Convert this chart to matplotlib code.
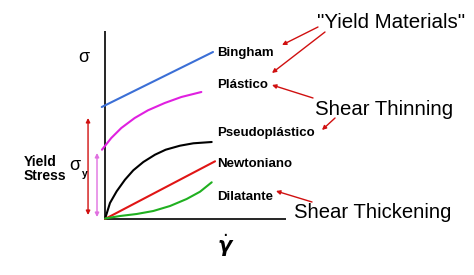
import numpy as np
import matplotlib
matplotlib.use("Agg")
import matplotlib.pyplot as plt

plt.rcParams['font.family'] = ['Liberation Sans', 'DejaVu Sans']

# ---- data (shear rate vs. shear stress, arbitrary units) ----
bingham_x = [-0.03, 1.0]
bingham_y = [1.12, 1.67]
plastico_x = [-0.028, 0.058, 0.151, 0.275, 0.398, 0.553, 0.707, 0.892]
plastico_y = [0.693, 0.81, 0.91, 1.01, 1.087, 1.16, 1.22, 1.27]
pseudo_x = [0.0, 0.046, 0.108, 0.185, 0.262, 0.355, 0.463, 0.562, 0.694, 0.818, 0.988]
pseudo_y = [0.0, 0.16, 0.277, 0.393, 0.487, 0.57, 0.643, 0.693, 0.733, 0.757, 0.77]
newton_x = [0.0, 1.019]
newton_y = [0.0, 0.577]
dilat_x = [0.0, 0.139, 0.293, 0.447, 0.602, 0.756, 0.88, 0.988]
dilat_y = [0.005, 0.03, 0.05, 0.08, 0.13, 0.20, 0.273, 0.367]

labels = ["Bingham", "Plástico", "Pseudoplástico", "Newtoniano", "Dilatante"]
label_y = [1.66, 1.34, 0.86, 0.55, 0.22]
colors = ["#3b6fd6", "#e020e0", "#000000", "#e01515", "#20b020"]

fig = plt.figure(figsize=(4.74, 2.75), dpi=100)
ax = fig.add_axes([0, 0, 1, 1])
ax.set_xlim(-105 / 108, 369 / 108)
ax.set_ylim(-0.56, 2.19)
ax.axis('off')

# axes lines
ax.plot([0, 0], [0, 1.88], color='black', lw=1.2, solid_capstyle='butt')
ax.plot([0, 1.676], [0, 0], color='black', lw=1.2, solid_capstyle='butt')

curves = [(bingham_x, bingham_y), (plastico_x, plastico_y), (pseudo_x, pseudo_y),
          (newton_x, newton_y), (dilat_x, dilat_y)]
for (xs, ys), c in zip(curves, colors):
    ax.plot(xs, ys, color=c, lw=1.5, solid_capstyle='round', solid_joinstyle='round')

for lab, ly in zip(labels, label_y):
    ax.text(1.037, ly, lab, fontsize=9.5, fontweight='bold', ha='left', va='center')

# yield stress arrows
ax.annotate('', xy=(-0.157, 1.01), xytext=(-0.157, 0.04),
            arrowprops=dict(arrowstyle='<|-|>', color='#d01010', lw=1, mutation_scale=6,
                            shrinkA=0, shrinkB=0))
ax.annotate('', xy=(-0.074, 0.66), xytext=(-0.074, 0.02),
            arrowprops=dict(arrowstyle='<|-|>', color='#e070e0', lw=1, mutation_scale=6,
                            shrinkA=0, shrinkB=0))

ax.text(-0.194, 1.62, 'σ', fontsize=13, ha='center', va='center')
ax.text(-0.75, 0.50, 'Yield\nStress', fontsize=10, fontweight='bold', ha='left',
        va='center', linespacing=1.05)
ax.text(-0.278, 0.53, 'σ', fontsize=13, ha='center', va='center')
ax.text(-0.19, 0.45, 'y', fontsize=7.5, fontweight='bold', ha='center', va='center')
ax.text(1.12, -0.27, r'$\dot{\boldsymbol{\gamma}}$', fontsize=15, ha='center', va='center')

# category annotations
ax.text(1.963, 1.96, '"Yield Materials"', fontsize=14.8, ha='left', va='center')
ax.text(1.944, 1.09, 'Shear Thinning', fontsize=14.7, ha='left', va='center')
ax.text(1.75, 0.06, 'Shear Thickening', fontsize=14.6, ha='left', va='center')

arrows = [((1.972, 1.92), (1.639, 1.74)),
          ((2.037, 1.87), (1.546, 1.46)),
          ((1.926, 1.21), (1.546, 1.34)),
          ((2.13, 1.01), (2.009, 0.89)),
          ((1.917, 0.17), (1.583, 0.28))]
for tail, head in arrows:
    ax.annotate('', xy=head, xytext=tail,
                arrowprops=dict(arrowstyle='-|>', color='#d01010', lw=1, mutation_scale=6,
                                shrinkA=0, shrinkB=0))

fig.savefig('out.png', dpi=100)
